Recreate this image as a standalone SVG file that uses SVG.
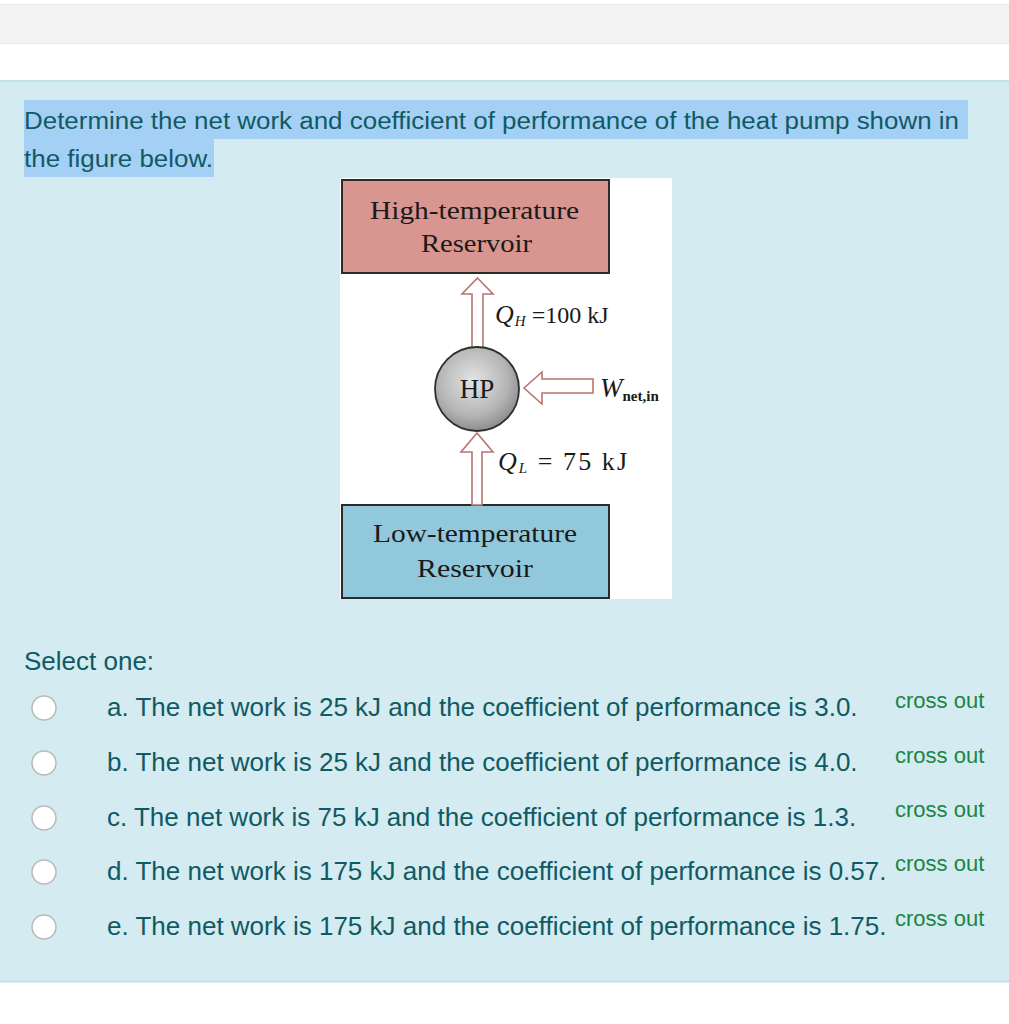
<svg xmlns="http://www.w3.org/2000/svg" width="1009" height="1024" viewBox="0 0 1009 1024">
<defs>
<style>
.q{font-family:"Liberation Sans",Arial,sans-serif;fill:#105a63}
.opt{font-size:26px}
.co{font-family:"Liberation Sans",Arial,sans-serif;font-size:22px;fill:#1b8544}
.sf{font-family:"Liberation Serif","Times New Roman",serif;fill:#1a1a1a}
.arr{fill:#ffffff;stroke:#b87570;stroke-width:1.6;stroke-linejoin:miter}
.box{stroke:#2b2b2b;stroke-width:2}
.radio{fill:#ffffff;stroke:#b9b9b9;stroke-width:1.5}
</style>
<radialGradient id="hpg" cx="0.45" cy="0.4" r="0.6">
<stop offset="0" stop-color="#e4e4e4"/>
<stop offset="0.7" stop-color="#b4b4b4"/>
<stop offset="1" stop-color="#8e8e8e"/>
</radialGradient>
</defs>
<rect x="0" y="0" width="1009" height="1024" fill="#ffffff"/>
<rect x="0" y="4" width="1009" height="40" fill="#f3f3f3"/>
<line x1="0" y1="4.5" x2="1009" y2="4.5" stroke="#ebebeb"/>
<line x1="0" y1="43.5" x2="1009" y2="43.5" stroke="#ebebeb"/>
<rect x="0" y="80" width="1009" height="902" fill="#d3ebf1"/>
<line x1="0" y1="81" x2="1009" y2="81" stroke="#bfe1ea" stroke-width="2"/>
<line x1="0" y1="981.5" x2="1009" y2="981.5" stroke="#bfe1ea" stroke-width="2"/>

<g id="prompt">
<rect x="24" y="100" width="944" height="39" fill="#a5d0f5"/>
<rect x="24" y="139" width="190" height="38" fill="#a5d0f5"/>
<text class="q" x="24" y="129" font-size="23" textLength="935" lengthAdjust="spacingAndGlyphs">Determine the net work and coefficient of performance of the heat pump shown in</text>
<text class="q" x="24" y="167" font-size="23" textLength="189" lengthAdjust="spacingAndGlyphs">the figure below.</text>
</g>

<rect x="340" y="178" width="332" height="421" fill="#ffffff"/>

<g id="high-reservoir">
<rect class="box" x="342" y="180" width="267" height="93" fill="#d9958f"/>
<text class="sf" x="370" y="219" font-size="25" textLength="209" lengthAdjust="spacingAndGlyphs">High-temperature</text>
<text class="sf" x="421" y="252" font-size="25" textLength="111" lengthAdjust="spacingAndGlyphs">Reservoir</text>
</g>

<g id="low-reservoir">
<rect class="box" x="342" y="505" width="267" height="93" fill="#92c8db"/>
<text class="sf" x="373" y="542" font-size="25" textLength="204" lengthAdjust="spacingAndGlyphs">Low-temperature</text>
<text class="sf" x="417" y="577" font-size="25" textLength="116" lengthAdjust="spacingAndGlyphs">Reservoir</text>
</g>

<g id="connectors">
<polygon class="arr" points="477.5,278 493,294 483,294 483,348 472,348 472,294 462,294"/>
<polygon class="arr" points="477,433 493,452 482,452 482,505 472,505 472,452 461,452"/>
<polygon class="arr" points="524,388 542,372 542,379 593,379 593,393 542,393 542,404"/>
</g>

<g id="hp">
<circle cx="477" cy="389" r="42" fill="url(#hpg)" stroke="#2e2e2e" stroke-width="1.8"/>
<text class="sf" x="477" y="398" font-size="27" text-anchor="middle">HP</text>
</g>

<g id="labels">
<text class="sf" x="495" y="323" font-size="24"><tspan font-style="italic" font-size="26">Q</tspan><tspan font-style="italic" font-size="15" dx="1" dy="3">H</tspan><tspan dy="-3"> =100 kJ</tspan></text>
<text class="sf" x="600" y="397" font-size="27"><tspan font-style="italic">W</tspan><tspan font-size="15" font-weight="bold" dy="4">net,in</tspan></text>
<text class="sf" x="498" y="470" font-size="26" textLength="129" lengthAdjust="spacing"><tspan font-style="italic">Q</tspan><tspan font-style="italic" font-size="15" dy="3">L</tspan><tspan dy="-3"> = 75 kJ</tspan></text>
</g>

<g id="options">
<text class="q" x="24" y="670" font-size="26">Select one:</text>
<circle class="radio" cx="44" cy="708" r="12"/>
<circle class="radio" cx="44" cy="763" r="12"/>
<circle class="radio" cx="44" cy="818" r="12"/>
<circle class="radio" cx="44" cy="872" r="12"/>
<circle class="radio" cx="44" cy="927" r="12"/>
<text class="q opt" x="107" y="716">a. The net work is 25 kJ and the coefficient of performance is 3.0.</text>
<text class="q opt" x="107" y="771">b. The net work is 25 kJ and the coefficient of performance is 4.0.</text>
<text class="q opt" x="107" y="826">c. The net work is 75 kJ and the coefficient of performance is 1.3.</text>
<text class="q opt" x="107" y="880">d. The net work is 175 kJ and the coefficient of performance is 0.57.</text>
<text class="q opt" x="107" y="935">e. The net work is 175 kJ and the coefficient of performance is 1.75.</text>
<text class="co" x="895" y="708">cross out</text>
<text class="co" x="895" y="763">cross out</text>
<text class="co" x="895" y="817">cross out</text>
<text class="co" x="895" y="871">cross out</text>
<text class="co" x="895" y="926">cross out</text>
</g>
</svg>
